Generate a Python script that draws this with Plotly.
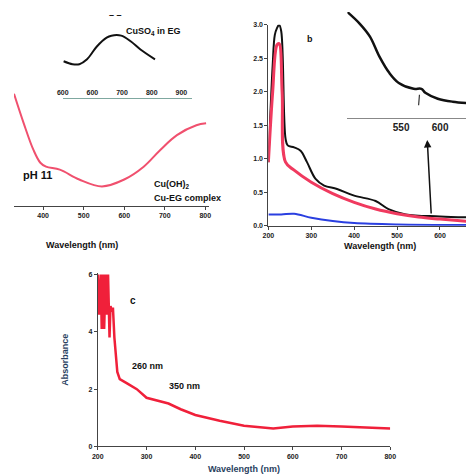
import plotly.graph_objects as go

# Panel a main (Cu(OH)2 / Cu-EG complex)
a_wl = [328, 352, 376, 393, 407, 441, 489, 545, 600, 648, 689, 730, 778, 802]
a_abs = [1.14, 0.84, 0.57, 0.44, 0.40, 0.37, 0.27, 0.20, 0.27, 0.40, 0.57, 0.72, 0.82, 0.84]
a_ticks = [400, 500, 600, 700, 800]
# Panel a inset (CuSO4 in EG)
ai_wl = [503, 533, 556, 582, 615, 648, 664, 697, 730, 762, 811]
ai_abs = [3.7, 3.4, 3.4, 3.9, 5.2, 6.1, 6.3, 6.3, 5.7, 4.9, 3.9]
ai_tickvals = [500, 600, 700, 800, 900]
ai_ticktext = ["600", "600", "700", "800", "900"]
# Panel b
b_wl_black = [200, 210, 215, 220, 225, 230, 240, 245, 260, 275, 290, 310, 330, 360, 400, 450, 480, 520, 600, 700]
b_black = [0.95, 2.4, 2.85, 2.95, 3.0, 2.9, 1.3, 1.2, 1.17, 1.12, 0.95, 0.7, 0.6, 0.55, 0.45, 0.37, 0.25, 0.17, 0.14, 0.12]
b_wl_red = [200, 210, 220, 225, 232, 240, 260, 300, 350, 400, 450, 500, 550, 600, 700]
b_red = [0.95, 2.0, 2.7, 2.72, 2.0, 0.95, 0.83, 0.65, 0.48, 0.35, 0.25, 0.18, 0.13, 0.10, 0.05]
b_wl_blue = [200, 230, 260, 300, 350, 400, 500, 700]
b_blue = [0.17, 0.17, 0.18, 0.12, 0.07, 0.04, 0.02, 0.01]
b_ticks = [200, 300, 400, 500, 600]
b_yticks = [0.0, 0.5, 1.0, 1.5, 2.0, 2.5, 3.0]
# Panel b inset
bi_wl = [481, 497, 510, 522, 535, 547, 566, 576, 581, 597, 616, 646]
bi_abs = [10.8, 9.6, 8.3, 6.3, 4.6, 3.6, 3.0, 3.0, 2.6, 2.0, 1.7, 1.5]
bi_ticks = [550, 600]
# Panel c
c_wl = [200, 203, 206, 208, 211, 213, 216, 219, 221, 224, 226, 229, 231, 234, 240, 245, 260, 280, 300,
        320, 345, 370, 400, 450, 500, 560, 600, 650, 700, 800]
c_abs = [6, 4.6, 6, 4.1, 6, 4.1, 6, 4.6, 6, 3.8, 4.9, 4.7, 4.85, 3.8, 2.6, 2.35, 2.2, 2.0, 1.7,
         1.6, 1.5, 1.3, 1.1, 0.9, 0.72, 0.63, 0.7, 0.72, 0.7, 0.63]
c_ticks = [200, 300, 400, 500, 600, 700, 800]
c_yticks = [0, 2, 4, 6]

W = 474
def X(px): return px / W
def Y(py): return 1 - py / W

TF = dict(family="Liberation Sans", size=7, color="#222", weight="bold")
fig = go.Figure()
fig.add_trace(go.Scatter(x=a_wl, y=a_abs, mode="lines", line=dict(color="#f0506e", width=2, shape="spline"), xaxis="x", yaxis="y"))
fig.add_trace(go.Scatter(x=ai_wl, y=ai_abs, mode="lines", line=dict(color="#111", width=2, shape="spline"), xaxis="x2", yaxis="y2"))
fig.add_trace(go.Scatter(x=b_wl_black, y=b_black, mode="lines", line=dict(color="#111", width=2, shape="spline"), xaxis="x3", yaxis="y3"))
fig.add_trace(go.Scatter(x=b_wl_red, y=b_red, mode="lines", line=dict(color="#f03a5f", width=3, shape="spline"), xaxis="x3", yaxis="y3"))
fig.add_trace(go.Scatter(x=b_wl_blue, y=b_blue, mode="lines", line=dict(color="#2a3fe0", width=2, shape="spline"), xaxis="x3", yaxis="y3"))
fig.add_trace(go.Scatter(x=bi_wl, y=bi_abs, mode="lines", line=dict(color="#111", width=2.5, shape="spline"), xaxis="x4", yaxis="y4"))
fig.add_trace(go.Scatter(x=c_wl, y=c_abs, mode="lines", line=dict(color="#f0203a", width=2.5), xaxis="x5", yaxis="y5"))

common = dict(showgrid=False, zeroline=False, ticks="outside", ticklen=3, tickfont=TF, linecolor="#444", linewidth=1)
fig.update_layout(
    width=W, height=W, margin=dict(l=0, r=0, t=0, b=0), showlegend=False,
    plot_bgcolor="white", paper_bgcolor="white",
    xaxis=dict(domain=[0, X(200)], range=[328, 809], tickvals=a_ticks, showline=True, anchor="y", **common),
    yaxis=dict(domain=[Y(197), Y(70)], range=[0, 1.27], visible=False),
    xaxis2=dict(domain=[X(50), X(183)], range=[500, 937], tickvals=ai_tickvals, ticktext=ai_ticktext,
                anchor="free", position=Y(87), side="top", showline=True,
                showgrid=False, zeroline=False, ticks="", tickfont=TF, linecolor="#7fa8a0"),
    yaxis2=dict(domain=[Y(87), Y(15)], range=[0, 7.2], visible=False, anchor="x2"),
    xaxis3=dict(domain=[X(261), 1], range=[200, 684], tickvals=b_ticks, showline=True, anchor="y3", **common),
    yaxis3=dict(domain=[Y(217), Y(13)], range=[0, 3.0], tickvals=b_yticks, tickformat=".1f", showline=True, anchor="x3", **common),
    xaxis4=dict(domain=[X(342), 1], range=[481, 646], tickvals=bi_ticks, showline=True, anchor="y4",
                showgrid=False, zeroline=False, ticks="", linecolor="#888",
                tickfont=dict(family="Liberation Sans", size=10, color="#222", weight="bold")),
    yaxis4=dict(domain=[Y(108), 1], range=[0, 10.8], visible=False, anchor="x4"),
    xaxis5=dict(domain=[X(86), X(386)], range=[200, 800], tickvals=c_ticks, showline=True, anchor="y5",
                title=dict(text="Wavelength (nm)", font=dict(family="Liberation Sans", size=9, weight="bold"), standoff=6), **common),
    yaxis5=dict(domain=[Y(441), Y(265)], range=[0, 6.05], tickvals=c_yticks, showline=True, anchor="x5",
                title=dict(text="Absorbance", font=dict(family="Liberation Sans", size=9, weight="bold"), standoff=18), **common),
)

def txt(px, py, s, size=9, color="#111", xa="left"):
    fig.add_annotation(x=X(px), y=Y(py), xref="paper", yref="paper", text=s, showarrow=False,
                       xanchor=xa, yanchor="middle", font=dict(family="Liberation Sans", size=size, color=color, weight="bold"))

txt(95, 3, "– –", 9)
txt(113, 20, "CuSO<sub>4</sub> in EG", 9)
txt(7, 165, "pH 11", 11)
txt(142, 175, "Cu(OH)<sub>2</sub>", 9)
txt(142, 189, "Cu-EG complex", 9)
txt(70, 236, "Wavelength (nm)", 9, xa="center")
txt(299, 27, "b", 9)
txt(375, 238, "Wavelength (nm)", 9, xa="center")
txt(463, 157, "Cu", 10, "#111")
txt(463, 172, "Pt", 10, "#c0203a")
txt(463, 183, "Pt", 10, "#2030d0")
txt(117, 293, "c", 10)
txt(119, 359, "260 nm", 9)
txt(157, 380, "350 nm", 9)
fig.add_annotation(x=X(424), y=Y(130), ax=4, ay=75, xref="paper", yref="paper", axref="pixel", ayref="pixel",
                   showarrow=True, arrowhead=2, arrowsize=1, arrowwidth=1.5, arrowcolor="#111", text="")
fig.add_annotation(x=X(416), y=Y(84), ax=-1, ay=12, xref="paper", yref="paper", axref="pixel", ayref="pixel",
                   showarrow=True, arrowhead=0, arrowwidth=1.2, arrowcolor="#333", text="")

fig.write_html("out.html")
